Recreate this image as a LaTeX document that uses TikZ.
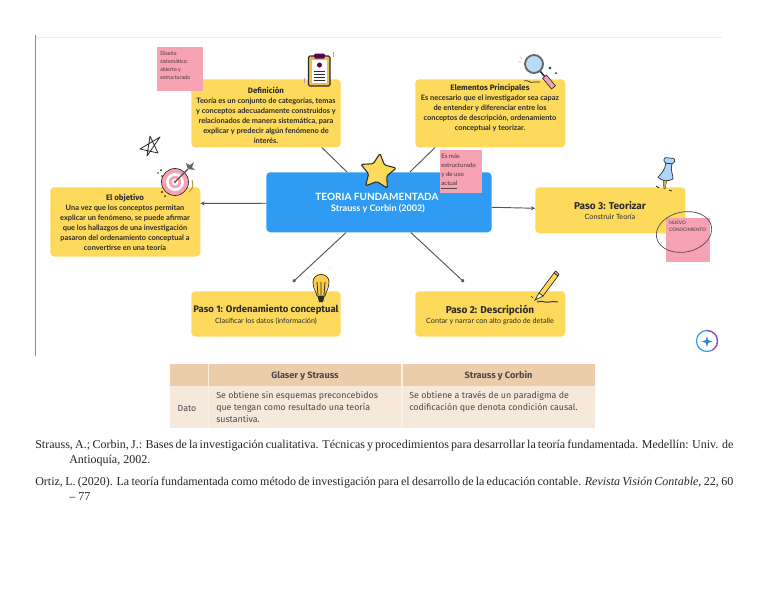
\documentclass[tikz,border=0pt]{standalone}
\usepackage{fontspec}
\setmainfont{Liberation Serif}
\newfontfamily\dsans{Lato}
\newfontfamily\tsans{Fira Sans}
\usetikzlibrary{calc,arrows.meta,shapes.geometric}
\definecolor{cardy}{HTML}{FDD95C}
\definecolor{cardb}{HTML}{2F9BF2}
\definecolor{notep}{HTML}{F5A3B3}
\definecolor{inkc}{HTML}{2B2B2B}
\definecolor{linec}{HTML}{555555}
\definecolor{headt}{HTML}{EBCDAB}
\definecolor{bodyt}{HTML}{F6E8DA}
\definecolor{tabtxt}{HTML}{4A4A4A}
\tikzset{
 card/.style={fill=cardy,rounded corners=3pt,inner sep=0pt},
 hero/.style={fill=cardb,rounded corners=3pt,inner sep=0pt},
 cardtext/.style={text=inkc,align=center,inner sep=0pt,font=\dsans\fontsize{5.55}{7.45}\selectfont\bfseries},
 steptitle/.style={text=inkc,inner sep=0pt,font=\tsans\fontsize{7.5}{9}\selectfont\bfseries},
 stepsub/.style={text=inkc,inner sep=0pt,font=\dsans\fontsize{5.4}{7}\selectfont},
 noteb/.style={fill=notep,inner sep=0pt},
 notet/.style={inner sep=0pt,anchor=north west,text=black!70!notep,align=left},
 link/.style={draw=linec,line width=0.7pt},
 arrowlink/.style={link,-{Stealth[length=3pt,width=3pt]}},
 dotlink/.style={link,-{Circle[length=2.6pt]}},
 cell/.style={inner sep=0pt,text=tabtxt,font=\tsans\fontsize{6.65}{9}\selectfont,align=left,anchor=north west},
 headc/.style={inner sep=0pt,text=tabtxt,font=\tsans\fontsize{6.9}{9}\selectfont\bfseries},
 refl/.style={inner sep=0pt,anchor=base west,text=black!85,font=\fontsize{9}{11}\selectfont},
 icon/.style={draw=inkc,line width=0.5pt},
}
\newcommand{\refline}[1]{\makebox[523.5pt][s]{#1}}
\newcommand{\cardhead}[1]{{\tsans\fontsize{5.9}{7.45}\selectfont #1}}
\begin{document}
\begin{tikzpicture}[x=0.75pt,y=-0.75pt]
\useasboundingbox (0,0) rectangle (768,594);
\fill[white] (0,0) rectangle (768,594);
% canvas
\fill[black!22] \foreach \i in {0,...,67}{\foreach \j in {0,...,31}{(42+10*\i,42+10*\j) circle (0.28)}};
\draw[black!7,line width=0.5pt] (36,37) -- (722,37);
\draw[black!45,line width=1pt] (35.5,35) -- (35.5,356);
% cards
\node[card,minimum width=112pt,minimum height=51pt,anchor=north west] (def) at (191,79) {};
\node[cardtext] (deft) at (266,115) {\cardhead{Definición}\\Teoría es un conjunto de categorías, temas\\y conceptos adecuadamente construidos y\\relacionados de manera sistemática, para\\explicar y predecir algún fenómeno de\\interés.};
\node[card,minimum width=112.5pt,minimum height=51pt,anchor=north west] (elem) at (415,79) {};
\node[cardtext] (elemt) at (490,108) {\cardhead{Elementos Principales}\\Es necesario que el investigador sea capaz\\de entender y diferenciar entre los\\conceptos de descripción, ordenamiento\\conceptual y teorizar.};
\node[hero,minimum width=169pt,minimum height=45pt,anchor=north west] (cen) at (266,172) {};
\node[text=white,inner sep=0pt,font=\dsans\fontsize{7.5}{10}\selectfont\bfseries] (cent) at (377,197) {TEORIA FUNDAMENTADA};
\node[text=white,inner sep=0pt,font=\dsans\fontsize{6.8}{8}\selectfont\bfseries] (cens) at (378,209) {Strauss y Corbin (2002)};
\node[card,minimum width=112.5pt,minimum height=52pt,anchor=north west] (obj) at (50,187) {};
\node[cardtext] (objt) at (125,222) {\cardhead{El objetivo}\\Una vez que los conceptos permitan\\explicar un fenómeno, se puede afirmar\\que los hallazgos de una investigación\\pasaron del ordenamiento conceptual a\\convertirse en una teoría};
\node[card,minimum width=112.5pt,minimum height=34.5pt,anchor=north west] (p3) at (535,187) {};
\node[steptitle] (p3a) at (610,206) {Paso 3: Teorizar};
\node[stepsub] (p3b) at (610,217) {Construir Teoría};
\node[card,minimum width=112pt,minimum height=34pt,anchor=north west] (p1) at (191,291) {};
\node[steptitle,font=\tsans\fontsize{7.15}{9}\selectfont\bfseries] (p1a) at (266,310) {Paso 1: Ordenamiento conceptual};
\node[stepsub] (p1b) at (266,321) {Clasificar los datos (información)};
\node[card,minimum width=112.5pt,minimum height=34pt,anchor=north west] (p2) at (415,291) {};
\node[steptitle] (p2a) at (490,310) {Paso 2: Descripción};
\node[stepsub] (p2b) at (490,321) {Contar y narrar con alto grado de detalle};
% connectors
\draw[link] ($(def.south east)+(-19,0)$) -- ($(cen.north west)+(81,0)$);
\draw[link] ($(elem.south west)+(20,0)$) -- ($(cen.north east)+(-82,0)$);
\draw[arrowlink] ($(cen.west)+(0,1)$) -- ($(obj.east)+(0,-18.5)$);
\draw[arrowlink] ($(cen.east)+(0,5)$) -- ($(p3.west)+(0,-2)$);
\draw[dotlink] ($(cen.south west)+(80,0)$) -- ($(p1.north east)+(-48,-9)$);
\draw[dotlink] ($(cen.south east)+(-81,0)$) -- ($(p2.north west)+(49,-9)$);
% notes
\node[noteb,minimum width=34pt,minimum height=33pt,anchor=north west] (n1) at (157,47) {};
\node[notet,font=\dsans\fontsize{4}{6}\selectfont] (n1t) at (160,51) {Diseño\\sistemático:\\abierto y\\estructurado};
\node[noteb,minimum width=31pt,minimum height=32pt,anchor=north west] (n2) at (440,150) {};
\node[notet,font=\dsans\fontsize{4.6}{6.75}\selectfont] (n2t) at (441,154) {Es más\\estructurado\\y de uso\\actual};
\draw[black!70,line width=0.25pt] (441,188.5) -- (457,188.5);
\node[noteb,minimum width=32.5pt,minimum height=33pt,anchor=north west] (n3) at (666,218) {};
\node[notet,font=\dsans\fontsize{3.5}{5.2}\selectfont] (n3t) at (669,221) {NUEVO\\CONOCIMIENTO};
\draw[inkc!85,line width=0.5pt,rotate around={12:(684,232)}] (684,232) ellipse (28 and 20);
% yellow star
\node[star,star points=5,star point ratio=1.95,minimum size=28pt,inner sep=0pt,fill=cardy,draw=inkc,line width=0.8pt,rounded corners=1pt,rotate=-6] (st) at (378,172) {};
% doodle star
\draw[inkc,line width=0.6pt,line join=round] (140,149) -- (160,137) -- (147,156) -- (150,136) -- (158,153) -- cycle;
% clipboard
\draw[icon,fill=cardy!70!brown,line width=0.8pt,rounded corners=1pt] (308.5,56) rectangle (330,86);
\fill[white] (312,60) rectangle (326.5,83);
\fill[violet!70!black,rounded corners=1pt] (314,53.5) rectangle (325,58.5);
\fill[violet!70!black] (319.5,65) circle (2.5);
\foreach \yy in {71,74,77,80}{\draw[inkc,line width=0.45pt] (314,\yy) -- (325,\yy);}
\draw[violet!45,line width=0.5pt] (333,52) -- (333,57) (304,78) -- (304,83);
% magnifier
\draw[inkc,line width=1.2pt,line cap=round] (540,71) -- (545,77);
\draw[inkc,fill=notep,line width=0.5pt,rotate around={-50:(549,82)}] (542,79.5) rectangle (556,84.5);
\draw[black!60,fill=cardb!35!white,line width=1.4pt] (534,64) circle (9);
\fill[inkc] (550,68) circle (1.4) (556,73) circle (1);
\draw[notep,line width=0.5pt] (520,57) -- (522,59) (518,62) -- (521,62);
\draw[inkc,line width=0.5pt] (524,81) .. controls (528,79) and (530,84) .. (534,82) .. controls (536,81) and (538,83) .. (540,82);
% target
\fill[notep] (175,182) circle (13.5);
\draw[inkc,line width=0.5pt] (175,182) circle (13.5);
\fill[white] (175,182) circle (9);
\fill[notep] (175,182) circle (6.2);
\fill[white] (175,182) circle (3.4);
\fill[notep!80!black] (175,182) circle (1.6);
\draw[black!70,line width=0.9pt] (175,182) -- (188,169);
\fill[black!60] (188,169) -- (186,163) -- (190,165) -- (194,162) -- (192,167) -- (195,170) -- cycle;
\fill[inkc] (161,170) circle (1) (158,173) circle (0.9) (162,176) circle (0.9) (162,192) circle (1.2) (165,196) circle (1);
\draw[cardy!70!black,line width=0.7pt] (192,180) .. controls (194,186) and (192,190) .. (189,192);
% pin
\draw[inkc,fill=black!15!cardy,line width=0.3pt] (663,179) -- (667,179) -- (665,189) -- (664,189) -- cycle;
\draw[inkc,fill=cardb!40!white,line width=0.5pt,line join=round] (666,163) -- (672,164) .. controls (670,170) and (673,174) .. (673,179) .. controls (668,182) and (661,181) .. (658,177) .. controls (661,174) and (665,170) .. (666,163) -- cycle;
\draw[inkc,fill=cardb!40!white,line width=0.5pt,rounded corners=1.5pt] (664,157.5) -- (675,158.5) -- (674,164) -- (664,163) -- cycle;
\draw[inkc,line width=0.6pt] (656,186) -- (659,188) (669,190) -- (672,191);
% bulb
\draw[cardy!55!white,line width=0.5pt] (310,279) -- (306,276) (315,270) -- (313,268) (321,267) -- (321,266) (329,270) -- (331,267) (333,279) -- (335,278);
\fill[cardy!85!orange] (321,282) circle (8.2);
\fill[cardy!85!orange] (315,287) -- (327,287) -- (325,296) -- (317,296) -- cycle;
\draw[inkc,line width=0.5pt] (317,296) .. controls (315,289) and (313,288) .. (313,282) .. controls (313,272) and (329,272) .. (329,282) .. controls (329,288) and (327,289) .. (325,296) -- cycle;
\draw[inkc,line width=0.6pt] (318,295) -- (317,282) (321,295) -- (321,282) (324,295) -- (325,282);
\fill[inkc] (317.5,296) -- (324.5,296) -- (323,302) -- (319,302) -- cycle;
% pencil
\draw[inkc,fill=cardy,line width=0.5pt] (539,293) -- (554,273) -- (558,276) -- (543,296) -- cycle;
\draw[inkc,fill=notep,line width=0.5pt] (554,273) -- (555.5,271) -- (559,274) -- (558,276) -- cycle;
\draw[inkc,fill=white,line width=0.5pt] (539,293) -- (543,296) -- (535,300) -- cycle;
\draw[inkc,line width=0.7pt] (537,302) .. controls (542,300) and (545,303) .. (549,302) .. controls (552,301) and (555,302) .. (558,302);
\draw[inkc,line width=0.4pt] (531,296) -- (533,298);
% assistant button
\draw[cardb,line width=0.9pt,fill=white] (707,341) circle (10.5);
\draw[violet!70,line width=0.9pt] (707,330.5) arc (-90:60:10.5);
\node[star,star points=4,star point ratio=3,minimum size=8pt,inner sep=0pt,fill=cardb!85!black] (spark) at (707,341.5) {};
% table
\fill[headt] (170,364) rectangle (595,386);
\fill[bodyt] (170,386) rectangle (595,428);
\draw[white!70!headt,line width=1pt] (208.5,364) -- (208.5,428) (402,364) -- (402,428);
\node[headc] (h1) at (305,376) {Glaser y Strauss};
\node[headc] (h2) at (498.5,376) {Strauss y Corbin};
\node[cell,anchor=center] (c0) at (187,408) {Dato};
\node[cell] (c1) at (216,391) {Se obtiene sin esquemas preconcebidos\\que tengan como resultado una teoría\\sustantiva.};
\node[cell] (c2) at (409,391) {Se obtiene a través de un paradigma de\\codificación que denota condición causal.};
% references
\node[refl] (r1) at (35,448) {\refline{Strauss, A.; Corbin, J.: Bases de la investigación cualitativa. Técnicas y procedimientos para desarrollar la teoría fundamentada. Medellín: Univ. de}};
\node[refl] (r2) at (69,463) {Antioquía, 2002.};
\node[refl] (r3) at (35,485) {\refline{Ortiz, L. (2020). La teoría fundamentada como método de investigación para el desarrollo de la educación contable. \textit{Revista Visión Contable}, 22, 60}};
\node[refl] (r4) at (69,500) {– 77};
\end{tikzpicture}
\end{document}
